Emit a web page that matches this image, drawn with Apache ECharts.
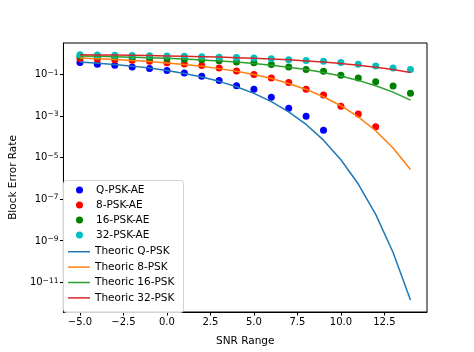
<!DOCTYPE html>
<html>
<head>
<meta charset="utf-8">
<script src="https://cdn.jsdelivr.net/npm/echarts@6/dist/echarts.min.js"></script>
<style>
  html, body { margin: 0; padding: 0; background: #fff; }
  #chart { width: 474px; height: 352px; }
</style>
</head>
<body>
<div id="chart"></div>
<script>
// SNR points (dB)
var snr = [-5, -4, -3, -2, -1, 0, 1, 2, 3, 4, 5, 6, 7, 8, 9, 10, 11, 12, 13, 14];

// autoencoder results (block error rate)
var qpskAE = [0.36, 0.30, 0.27, 0.22, 0.19, 0.15, 0.115, 0.080, 0.050, 0.028, 0.019, 0.0077, 0.0023, 0.00095, 0.0002];
var psk8AE = [0.56, 0.52, 0.50, 0.47, 0.42, 0.35, 0.31, 0.26, 0.20, 0.144, 0.096, 0.066, 0.040, 0.019, 0.010, 0.0029, 0.0012, 0.0003];
var psk16AE = [0.72, 0.70, 0.67, 0.64, 0.61, 0.57, 0.53, 0.49, 0.44, 0.39, 0.35, 0.29, 0.22, 0.17, 0.14, 0.089, 0.066, 0.043, 0.027, 0.012];
var psk32AE = [0.85, 0.83, 0.81, 0.79, 0.77, 0.75, 0.72, 0.69, 0.66, 0.63, 0.60, 0.56, 0.50, 0.46, 0.42, 0.36, 0.30, 0.25, 0.20, 0.17];

// theoretical curves
var qpskTh = [0.381, 0.338, 0.292, 0.244, 0.197, 0.151, 0.109, 0.0736, 0.0452, 0.0248, 0.0119, 0.00478, 0.00155, 3.82e-4, 6.7e-5, 7.7e-6, 5.2e-7, 1.8e-8, 2.66e-10, 1.36e-12];
var psk8Th = [0.598, 0.554, 0.507, 0.457, 0.403, 0.349, 0.293, 0.238, 0.185, 0.137, 0.0956, 0.0614, 0.0359, 0.0185, 0.00824, 0.00304, 8.8e-4, 1.9e-4, 2.8e-5, 2.6e-6];
var psk16Th = [0.756, 0.728, 0.696, 0.661, 0.623, 0.581, 0.536, 0.487, 0.436, 0.382, 0.326, 0.271, 0.217, 0.166, 0.120, 0.0810, 0.0502, 0.0280, 0.0137, 0.00568];
var psk32Th = [0.862, 0.845, 0.826, 0.806, 0.782, 0.757, 0.728, 0.696, 0.662, 0.623, 0.581, 0.536, 0.488, 0.436, 0.382, 0.327, 0.271, 0.217, 0.166, 0.120];

var xTicks = [-5, -2.5, 0, 2.5, 5, 7.5, 10, 12.5];
var yTicks = [-11, -9, -7, -5, -3, -1]; // decades

var chart = echarts.init(document.getElementById('chart'));

function pts(vals) {
    return vals.map(function (v, i) { return [snr[i], Math.log10(v)]; });
}

function dots(name, vals, color) {
    return {
        name: name, type: 'scatter', data: pts(vals),
        symbol: 'circle', symbolSize: 7,
        itemStyle: { color: color, opacity: 1 },
        silent: true
    };
}

function curve(name, vals, color) {
    return {
        name: name, type: 'line', data: pts(vals),
        symbol: 'none', smooth: false,
        lineStyle: { color: color, width: 1.5 },
        itemStyle: { color: color },
        silent: true
    };
}

var font = 'DejaVu Sans';
var legendText = { fontFamily: font, fontSize: 10.5, color: '#000', lineHeight: 12 };

var option = {
    animation: false,
    textStyle: { fontFamily: font },
    grid: {
        left: 60, right: 47, top: 43, bottom: 39,
        show: true, borderColor: '#000', borderWidth: 1, backgroundColor: 'transparent'
    },
    // legend frame (matplotlib style)
    graphic: [{
        type: 'rect', left: 63, top: 180, z: 50,
        shape: { width: 120, height: 132, r: 3 },
        style: { fill: 'rgba(255,255,255,0.8)', stroke: '#d3d3d3', lineWidth: 1 }
    }],
    legend: [{
        orient: 'vertical', left: 71, top: 184, z: 60,
        padding: [0, 5, 0, 5],
        itemWidth: 23, itemHeight: 7, itemGap: 3,
        icon: 'circle',
        textStyle: legendText,
        data: ['Q-PSK-AE', '8-PSK-AE', '16-PSK-AE', '32-PSK-AE']
    }, {
        orient: 'vertical', left: 63, top: 245.7, z: 60,
        padding: [0, 5, 0, 5],
        itemWidth: 22, itemHeight: 1.5, itemGap: 3.4,
        icon: 'rect',
        textStyle: legendText,
        data: ['Theoric Q-PSK', 'Theoric 8-PSK', 'Theoric 16-PSK', 'Theoric 32-PSK']
    }],
    xAxis: {
        type: 'value', min: -5.95, max: 14.95,
        name: 'SNR Range', nameLocation: 'middle', nameGap: 24,
        nameTextStyle: { fontFamily: font, fontSize: 10.5, color: '#000' },
        axisLine: { onZero: false, lineStyle: { color: '#000', width: 1 } },
        axisTick: { customValues: xTicks, length: 3.5, lineStyle: { color: '#000' } },
        axisLabel: {
            customValues: xTicks, color: '#000', fontFamily: font, fontSize: 10, margin: 5,
            formatter: function (v) { return v.toFixed(1).replace('-', '\u2212'); }
        },
        splitLine: { show: false }
    },
    yAxis: {
        type: 'value', min: -12.44, max: 0.5,
        name: 'Block Error Rate', nameLocation: 'middle', nameGap: 43,
        nameTextStyle: { fontFamily: font, fontSize: 10.5, color: '#000' },
        axisLine: { onZero: false, lineStyle: { color: '#000', width: 1 } },
        axisTick: { customValues: yTicks, length: 3.5, lineStyle: { color: '#000' } },
        axisLabel: {
            customValues: yTicks, color: '#000', fontFamily: font, margin: 5,
            formatter: function (v) { return '{b|10}{s|\u2212' + Math.abs(v) + '}'; },
            rich: {
                b: { fontFamily: font, fontSize: 10, color: '#000', lineHeight: 11, verticalAlign: 'bottom', padding: [5, 0, 0, 0] },
                s: { fontFamily: font, fontSize: 7.5, color: '#000', lineHeight: 9, verticalAlign: 'top' }
            }
        },
        splitLine: { show: false }
    },
    series: [
        dots('Q-PSK-AE', qpskAE, '#0000ff'),
        dots('8-PSK-AE', psk8AE, '#ff0000'),
        dots('16-PSK-AE', psk16AE, '#008000'),
        dots('32-PSK-AE', psk32AE, '#00bfbf'),
        curve('Theoric Q-PSK', qpskTh, '#1f77b4'),
        curve('Theoric 8-PSK', psk8Th, '#ff7f0e'),
        curve('Theoric 16-PSK', psk16Th, '#2ca02c'),
        curve('Theoric 32-PSK', psk32Th, '#d62728')
    ]
};

chart.setOption(option);
</script>
</body>
</html>
